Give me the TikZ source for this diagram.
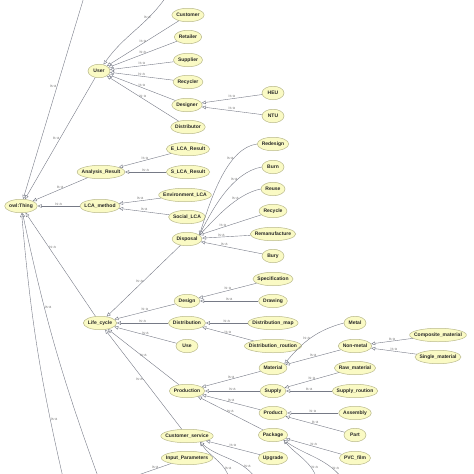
\documentclass[tikz,border=0pt]{standalone}
\usepackage{fontspec}
\setmainfont{Liberation Sans}
\usetikzlibrary{arrows.meta, positioning, shapes.geometric}
\definecolor{clsfill}{RGB}{250,250,196}
\definecolor{clsdraw}{RGB}{185,185,140}
\definecolor{isagray}{RGB}{118,122,134}
\newcommand{\Cls}[1]{\setbox0=\hbox{#1}\makebox[\dimexpr\wd0*707/1000+6.4pt\relax][c]{#1}}
\tikzset{
    cls/.style={ellipse, draw=clsdraw, fill=clsfill, line width=0.5pt,
      inner xsep=0pt, inner ysep=1pt, minimum height=13.5pt, minimum width=22pt,
      font=\fontsize{5}{6}\selectfont\bfseries, text=black!85},
    isa/.style={draw=isagray, line width=0.4pt, -{Triangle[length=4pt, width=3.6pt, fill=white]}},
    isalabel/.style={font=\fontsize{4}{4}\selectfont, text=gray, midway, above, inner sep=0.6pt},
}

\begin{document}
\begin{tikzpicture}[x=1pt, y=-1pt]
    \useasboundingbox (0,0) rectangle (474,474);

    % classes
    \node[cls] (thing) at (21,206) {\Cls{owl:Thing}};
    \node[cls] (user) at (99,71) {\Cls{User}};
    \node[cls] (cust) at (188,15) {\Cls{Customer}};
    \node[cls] (retl) at (188,37) {\Cls{Retailer}};
    \node[cls] (supl) at (188,60) {\Cls{Supplier}};
    \node[cls] (recy) at (188,82) {\Cls{Recycler}};
    \node[cls] (desg) at (187,105) {\Cls{Designer}};
    \node[cls] (dist) at (188,127) {\Cls{Distributor}};
    \node[cls] (heu) at (273,93) {\Cls{HEU}};
    \node[cls] (ntu) at (273,116) {\Cls{NTU}};
    \node[cls] (anres) at (101,172) {\Cls{Analysis\_Result}};
    \node[cls] (elca) at (188,149) {\Cls{E\_LCA\_Result}};
    \node[cls] (slca) at (188,172) {\Cls{S\_LCA\_Result}};
    \node[cls] (lcam) at (100,206) {\Cls{LCA\_method}};
    \node[cls] (envl) at (185,195) {\Cls{Environment\_LCA}};
    \node[cls] (socl) at (187,217) {\Cls{Social\_LCA}};
    \node[cls] (disp) at (187,239) {\Cls{Disposal}};
    \node[cls] (redes) at (273,144) {\Cls{Redesign}};
    \node[cls] (burn) at (273,167) {\Cls{Burn}};
    \node[cls] (reuse) at (273,189) {\Cls{Reuse}};
    \node[cls] (recyc) at (273,211) {\Cls{Recycle}};
    \node[cls] (reman) at (273,234) {\Cls{Remanufacture}};
    \node[cls] (bury) at (273,256) {\Cls{Bury}};
    \node[cls] (life) at (100,323) {\Cls{Life\_cycle}};
    \node[cls] (design) at (187,301) {\Cls{Design}};
    \node[cls] (spec) at (273,279) {\Cls{Specification}};
    \node[cls] (drawg) at (273,301) {\Cls{Drawing}};
    \node[cls] (distr) at (187,323) {\Cls{Distribution}};
    \node[cls] (dmap) at (273,323) {\Cls{Distribution\_map}};
    \node[cls] (drout) at (273,346) {\Cls{Distribution\_roution}};
    \node[cls] (use) at (187,346) {\Cls{Use}};
    \node[cls] (prod) at (187,391) {\Cls{Production}};
    \node[cls] (matl) at (273,368) {\Cls{Material}};
    \node[cls] (metal) at (355,323) {\Cls{Metal}};
    \node[cls] (nonm) at (355,346) {\Cls{Non-metal}};
    \node[cls] (comp) at (438,335) {\Cls{Composite\_material}};
    \node[cls] (single) at (438,357) {\Cls{Single\_material}};
    \node[cls] (raw) at (355,368) {\Cls{Raw\_material}};
    \node[cls] (supply) at (273,391) {\Cls{Supply}};
    \node[cls] (srout) at (355,391) {\Cls{Supply\_roution}};
    \node[cls] (product) at (273,413) {\Cls{Product}};
    \node[cls] (assem) at (355,413) {\Cls{Assembly}};
    \node[cls] (part) at (355,435) {\Cls{Part}};
    \node[cls] (pack) at (273,435) {\Cls{Package}};
    \node[cls] (pvc) at (355,458) {\Cls{PVC\_film}};
    \node[cls] (csrv) at (187,436) {\Cls{Customer\_service}};
    \node[cls] (upg) at (273,458) {\Cls{Upgrade}};
    \node[cls] (input) at (187,458) {\Cls{Input\_Parameters}};

    % ends outside the frame
    \coordinate (topt) at (84,-3);
    \coordinate (topu) at (166,-3);
    \coordinate (bot1) at (64,482);
    \coordinate (bot2) at (100,482);
    \coordinate (inp0) at (118,482);
    \coordinate (cs1) at (230,482);
    \coordinate (cs2) at (258,482);
    \coordinate (pk1) at (318,482);
    \coordinate (pk2) at (345,482);

    % owl:Thing
    \draw[isa] (topt) -- node[isalabel, pos=0.44, left]{is-a} (thing);
    \draw[isa] (user) -- node[isalabel, left]{is-a} (thing);
    \draw[isa] (anres) -- node[isalabel]{is-a} (thing);
    \draw[isa] (lcam) -- node[isalabel]{is-a} (thing);
    \draw[isa] (life) -- node[isalabel, pos=0.67, right]{is-a} (thing);
    \draw[isa] (bot2) to[bend left=4] node[isalabel, pos=0.67, right]{is-a} (thing);
    \draw[isa] (bot1) to[bend left=4] node[isalabel, pos=0.22, right]{is-a} (thing);

    % User
    \draw[isa] (topu) to[out=235, in=55] node[isalabel, pos=0.3]{is-a} (user);
    \draw[isa] (cust) -- node[isalabel]{is-a} (user);
    \draw[isa] (retl) -- node[isalabel]{is-a} (user);
    \draw[isa] (supl) -- node[isalabel]{is-a} (user);
    \draw[isa] (recy) -- node[isalabel]{is-a} (user);
    \draw[isa] (desg) -- node[isalabel]{is-a} (user);
    \draw[isa] (dist) -- node[isalabel]{is-a} (user);
    \draw[isa] (heu) -- node[isalabel]{is-a} (desg);
    \draw[isa] (ntu) -- node[isalabel]{is-a} (desg);

    % results and methods
    \draw[isa] (elca) -- node[isalabel]{is-a} (anres);
    \draw[isa] (slca) -- node[isalabel]{is-a} (anres);
    \draw[isa] (envl) -- node[isalabel]{is-a} (lcam);
    \draw[isa] (socl) -- node[isalabel]{is-a} (lcam);

    % Disposal
    \draw[isa] (redes.west) .. controls (228,148) and (212,195) .. node[isalabel, pos=0.3, left]{is-a} (disp.18);
    \draw[isa] (burn.west) .. controls (233,172) and (213,208) .. node[isalabel, pos=0.3, left]{is-a} (disp.18);
    \draw[isa] (reuse.west) .. controls (236,194) and (214,220) .. node[isalabel, pos=0.3, left]{is-a} (disp.18);
    \draw[isa] (recyc) -- node[isalabel, pos=0.62]{is-a} (disp);
    \draw[isa] (reman) -- node[isalabel, pos=0.6]{is-a} (disp);
    \draw[isa] (bury) -- node[isalabel, pos=0.62]{is-a} (disp);

    % Life_cycle
    \draw[isa] (disp) -- node[isalabel, left]{is-a} (life);
    \draw[isa] (design) -- node[isalabel]{is-a} (life);
    \draw[isa] (distr) -- node[isalabel]{is-a} (life);
    \draw[isa] (use) -- node[isalabel]{is-a} (life);
    \draw[isa] (prod) -- node[isalabel]{is-a} (life);
    \draw[isa] (csrv) -- node[isalabel, left]{is-a} (life);
    \draw[isa] (spec) -- node[isalabel]{is-a} (design);
    \draw[isa] (drawg) -- node[isalabel]{is-a} (design);
    \draw[isa] (dmap) -- node[isalabel]{is-a} (distr);
    \draw[isa] (drout) -- node[isalabel]{is-a} (distr);

    % Production
    \draw[isa] (matl) -- node[isalabel]{is-a} (prod);
    \draw[isa] (supply) -- node[isalabel]{is-a} (prod);
    \draw[isa] (product) -- node[isalabel]{is-a} (prod);
    \draw[isa] (pack) -- node[isalabel]{is-a} (prod);
    \draw[isa] (metal.west) to[out=195, in=50] node[isalabel, left]{is-a} (matl.20);
    \draw[isa] (nonm) -- node[isalabel]{is-a} (matl);
    \draw[isa] (comp) -- node[isalabel]{is-a} (nonm);
    \draw[isa] (single) -- node[isalabel]{is-a} (nonm);
    \draw[isa] (raw) -- node[isalabel]{is-a} (supply);
    \draw[isa] (srout) -- node[isalabel]{is-a} (supply);
    \draw[isa] (assem) -- node[isalabel]{is-a} (product);
    \draw[isa] (part) -- node[isalabel]{is-a} (product);
    \draw[isa] (pvc) -- node[isalabel]{is-a} (pack);
    \draw[isa] (pk1) to[out=105, in=-50] node[isalabel, pos=0.3, right]{is-a} (pack.-25);
    \draw[isa] (pk2) to[out=125, in=-35] node[isalabel, pos=0.25, right]{is-a} (pack.-25);

    % Customer_service
    \draw[isa] (upg) -- node[isalabel]{is-a} (csrv);
    \draw[isa] (cs1) to[out=100, in=-55] node[isalabel, pos=0.3, right]{is-a} (csrv.-25);
    \draw[isa] (cs2) to[out=120, in=-40] node[isalabel, pos=0.3, right]{is-a} (csrv.-25);
    \draw[isa] (input) -- node[isalabel, pos=0.3]{is-a} (inp0);

\end{tikzpicture}
\end{document}
